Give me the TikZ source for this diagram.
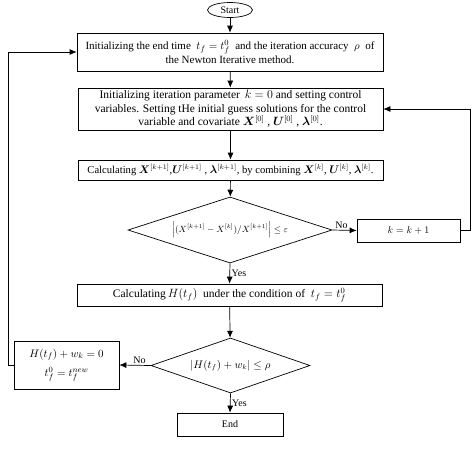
\documentclass[tikz,border=0pt]{standalone}
\usepackage{amsmath}
\usepackage{bm}
\usepackage{fontspec}
\setmainfont{Liberation Serif}
\usetikzlibrary{shapes.geometric,arrows.meta}

\begin{document}
\begin{tikzpicture}[x=1pt, y=-1pt, line width=0.7pt,
        >={Latex[length=7pt,width=6pt]},
        stepbox/.style={draw, rectangle, align=center, inner sep=1pt, font=\fontsize{11.5}{13.5}\selectfont},
        testbox/.style={draw, diamond, inner sep=0pt, font=\fontsize{10}{12}\selectfont},
        tag/.style={font=\fontsize{10}{12}\selectfont, inner sep=1.5pt}]
    \useasboundingbox (0,0) rectangle (474,453);
    % Define nodes
        \node[draw, ellipse, minimum width=45pt, minimum height=15pt, inner sep=0pt, font=\fontsize{10}{12}\selectfont] (start) at (230,10) {Start};
        \node[stepbox, minimum width=306pt, minimum height=38pt, font=\fontsize{11}{14}\selectfont] (init) at (230,52)
            {Initializing the end time \ $t_f=t_f^0$ \ and the iteration accuracy \ $\rho$ \ of\\ the Newton Iterative method.};
        \node[stepbox, minimum width=305pt, minimum height=42pt] (param) at (230.5,109)
            {Initializing iteration parameter \,$k=0$ and setting control\\ variables. Setting tHe initial guess solutions for the control\\ variable and covariate $\bm{X}^{[0]}$ , $\bm{U}^{[0]}$ , $\bm{\lambda}^{[0]}$.};
        \node[stepbox, minimum width=305pt, minimum height=20pt, font=\fontsize{10.6}{13}\selectfont] (calc) at (230.5,170)
            {Calculating $\bm{X}^{[k+1]}$,$\bm{U}^{[k+1]}$ , $\bm{\lambda}^{[k+1]}$, by combining $\bm{X}^{[k]}$, $\bm{U}^{[k]}$, $\bm{\lambda}^{[k]}$.};
        \node[testbox, aspect=3.1, minimum width=204pt, minimum height=66pt, font=\fontsize{9.2}{11}\selectfont] (check) at (230,230)
            {$\left|(X^{[k+1]}-X^{[k]})/X^{[k+1]}\right|\le\varepsilon$};
        \node[stepbox, minimum width=103pt, minimum height=23pt, font=\fontsize{10}{12}\selectfont] (incr) at (408.5,230.5) {$k=k+1$};
        \node[stepbox, minimum width=305pt, minimum height=22pt] (ham) at (229.5,295)
            {Calculating$\,H(t_f)$ \ under the condition of \ $t_f=t_f^0$};
        \node[testbox, aspect=2.9, minimum width=159pt, minimum height=55pt, font=\fontsize{10.5}{12}\selectfont] (conv) at (230.5,365.5)
            {$\left|H(t_f)+w_k\right|\le\rho$};
        \node[stepbox, minimum width=105pt, minimum height=48pt, font=\fontsize{11}{13}\selectfont] (update) at (66.5,365)
            {$H(t_f)+w_k=0$\\[6pt] $t_f^0=t_f^{new}$};
        \node[stepbox, minimum width=106pt, minimum height=23pt, font=\fontsize{10}{12}\selectfont] (stop) at (230,424.5) {End};
        \coordinate (rloop) at (470,0);
        \coordinate (lloop) at (8,0);
        % Draw arrows
        \draw[->] (start) -- (init);
        \draw[->] (init) -- (param);
        \draw[->] (param) -- (calc);
        \draw[->] (calc) -- (check);
        \draw[->] (check.east) -- (incr.west) node[tag, pos=0.05, above right] {No};
        \draw[->] (incr.east) -- (incr.east -| rloop) -- (param.east -| rloop) -- (param.east);
        \draw[->] (check.south) -- (ham.north) node[tag, midway, right] {Yes};
        \draw[->] (ham) -- (conv);
        \draw[->] (conv.west) -- (update.east) node[tag, pos=0.1, above left] {No};
        \draw[->] (update.west) -- (update.west -| lloop) -- (init.west -| lloop) -- (init.west);
        \draw[->] (conv.south) -- (stop.north) node[tag, midway, right] {Yes};
    \end{tikzpicture}
\end{document}
